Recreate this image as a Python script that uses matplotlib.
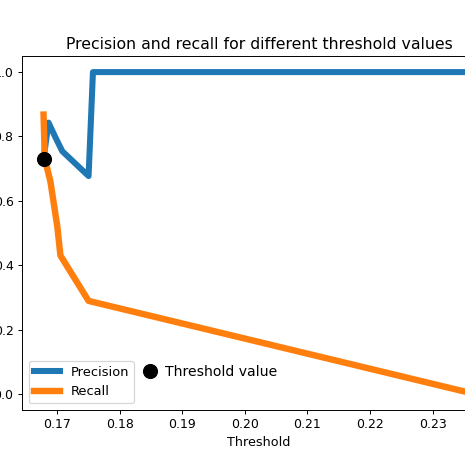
import matplotlib
matplotlib.use("Agg")
import matplotlib.pyplot as plt
from matplotlib.lines import Line2D

# values
prec_thr = [0.1678, 0.1686, 0.1697, 0.1708, 0.1750, 0.1757, 0.2367]
precision = [0.73, 0.843, 0.797, 0.754, 0.677, 1.0, 1.0]
rec_thr = [0.1678, 0.1680, 0.1689, 0.1700, 0.1705, 0.1750, 0.2367]
recall = [0.868, 0.73, 0.66, 0.52, 0.43, 0.289, 0.0]
thr_x = 0.1678
thr_y = 0.729

W = 465
fig = plt.figure(figsize=(W / 87, W / 87), dpi=87)
# the original figure was wider; axes run past the right edge
ax = fig.add_axes([22 / W, 55 / W, 474 / W, 354 / W])

l1, = ax.plot(prec_thr, precision, color="#1f77b4", linewidth=5,
              label="Precision")
l2, = ax.plot(rec_thr, recall, color="#ff7f0e", linewidth=5.3,
              label="Recall")
ax.plot([thr_x], [thr_y], "o", color="black", markersize=11.5)

ax.set_title("Precision and recall for different threshold values",
             fontsize=13)
ax.set_xlabel("Threshold", fontsize=10.5)
ax.set_xticks([0.17, 0.18, 0.19, 0.20, 0.21, 0.22, 0.23])
ax.set_yticks([0.0, 0.2, 0.4, 0.6, 0.8, 1.0])
ax.tick_params(labelsize=10.3)

leg = ax.legend(handles=[l1, l2], loc="lower left", fontsize=10.8)
ax.add_artist(leg)
dot = Line2D([], [], marker="o", color="black", linestyle="none",
             markersize=11.5, label="Threshold value")
ax.legend(handles=[dot], loc="lower left", frameon=False,
          bbox_to_anchor=(0.213, 0.051), handletextpad=0.1,
          fontsize=11.6)

fig.savefig("out.png", dpi=87)
